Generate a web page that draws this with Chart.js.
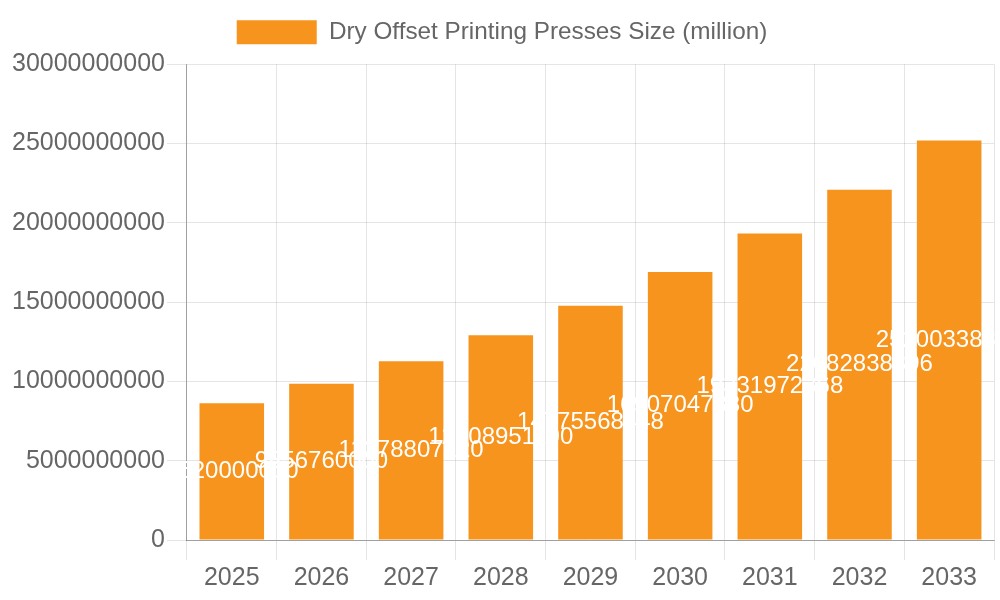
<!DOCTYPE html>
<html>
<head>
<meta charset="utf-8">
<script src="https://cdn.jsdelivr.net/npm/chart.js@4/dist/chart.umd.min.js"></script>
<style>
html,body{margin:0;padding:0;background:#fff;}
#wrap{width:1000px;height:600px;}
</style>
</head>
<body>
<div id="wrap"><canvas id="c" width="1000" height="600"></canvas></div>
<script>
const categories = ["2025","2026","2027","2028","2029","2030","2031","2032","2033"];
const seriesName = "Dry Offset Printing Presses Size (million)";
const values = [8620000000, 9856760000, 11278807120, 12908951100, 14775568448, 16907047380, 19331972368, 22082838896, 25200338300];
const yTicks = [0, 5000000000, 10000000000, 15000000000, 20000000000, 25000000000, 30000000000];

const FONT = '"Liberation Sans", Arial, sans-serif';

const labelPlugin = {
  id: 'barLabels',
  afterDatasetsDraw(chart) {
    const ctx = chart.ctx;
    const meta = chart.getDatasetMeta(0);
    ctx.save();
    ctx.fillStyle = '#ffffff';
    ctx.font = '24px ' + FONT;
    ctx.textAlign = 'center';
    ctx.textBaseline = 'middle';
    meta.data.forEach((bar, i) => {
      const p = bar.getProps(['x','y','base'], true);
      ctx.fillText(String(values[i]), p.x, (p.y + p.base) / 2);
    });
    ctx.restore();
  }
};

const legendMargin = {
  id: 'legendMargin',
  beforeInit(chart) {
    const orig = chart.legend.fit;
    chart.legend.fit = function () { orig.bind(chart.legend)(); this.height += 10; };
  }
};

new Chart(document.getElementById('c'), {
  type: 'bar',
  data: {
    labels: categories,
    datasets: [{
      label: seriesName,
      data: values,
      backgroundColor: '#f7941e',
      borderWidth: 0
    }]
  },
  options: {
    responsive: false,
    animation: false,
    devicePixelRatio: 1,
    layout: { padding: { left: 10, right: 6, top: 8, bottom: 4 } },
    plugins: {
      legend: {
        position: 'top',
        labels: { boxWidth: 80, boxHeight: 24, color: '#666', font: { size: 24.3, family: FONT }, padding: 12 }
      },
      tooltip: { enabled: false }
    },
    scales: {
      x: {
        grid: { color: 'rgba(0,0,0,0.1)', tickLength: 20 },
        border: { color: 'rgba(0,0,0,0.3)' },
        ticks: { color: '#666', font: { size: 25, family: FONT } }
      },
      y: {
        min: 0, max: 30000000000,
        afterBuildTicks(axis) { axis.ticks = yTicks.map(v => ({ value: v })); },
        grid: { color: 'rgba(0,0,0,0.1)', tickLength: 20 },
        border: { color: 'rgba(0,0,0,0.3)' },
        ticks: { color: '#666', padding: 2, font: { size: 25, family: FONT }, callback: v => String(v) }
      }
    }
  },
  plugins: [labelPlugin, legendMargin]
});
</script>
</body>
</html>
